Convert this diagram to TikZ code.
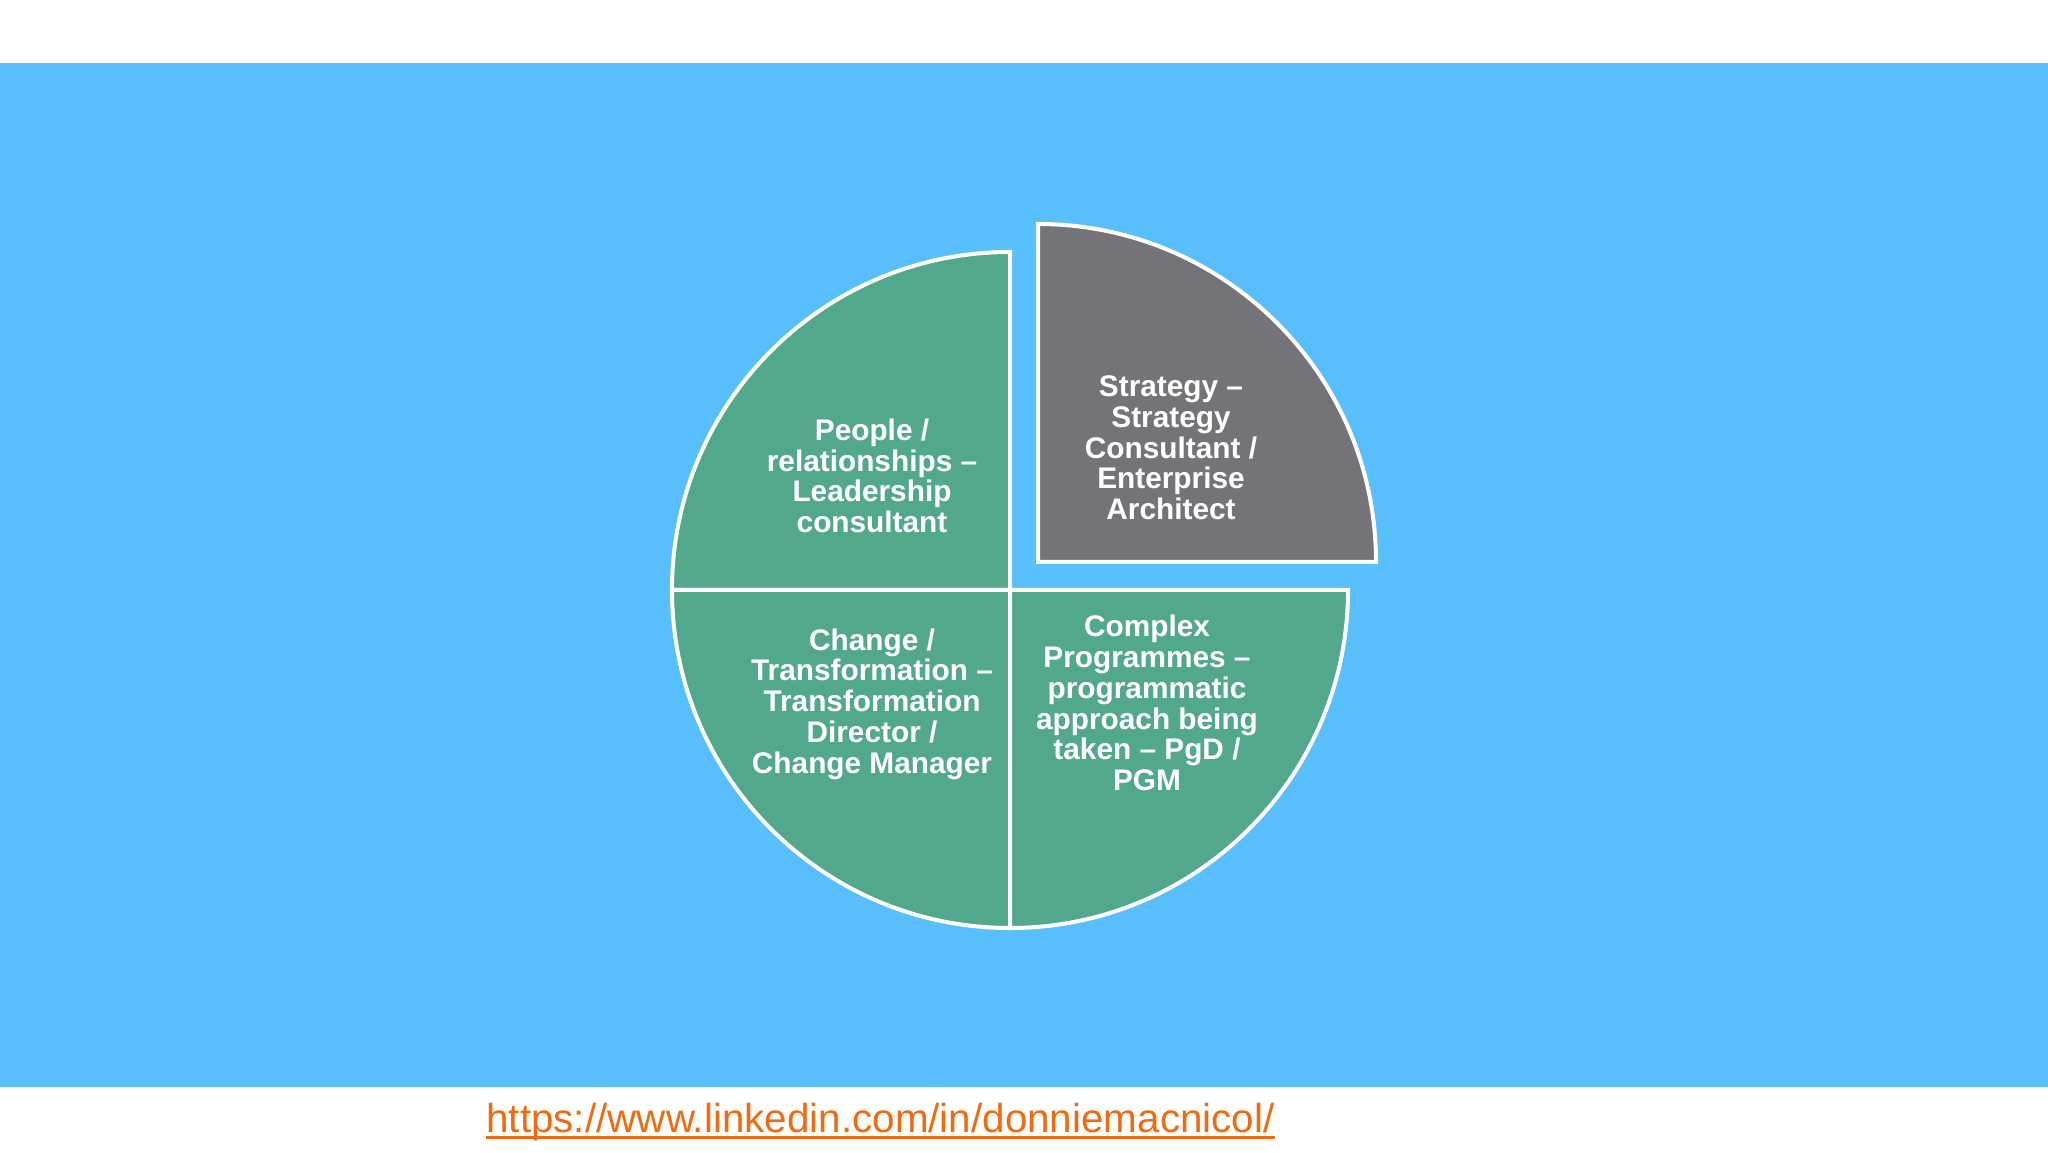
\documentclass[tikz,border=0pt]{standalone}
\usepackage{fontspec}
\setmainfont{Liberation Sans}
\definecolor{bandblue}{RGB}{88,191,252}
\definecolor{wedgegreen}{RGB}{82,168,140}
\definecolor{wedgegray}{RGB}{116,116,120}
\definecolor{urlorange}{RGB}{242,106,16}
\begin{document}
\begin{tikzpicture}[x=0.5pt,y=0.5pt,
  wedge/.style={draw=white,line width=2pt,line join=miter},
  label/.style={text=white,align=center,font=\bfseries\fontsize{14.9}{15.35}\selectfont,inner sep=0pt}]
\fill[white] (0,0) rectangle (2048,1152);
\useasboundingbox (0,0) rectangle (2048,1152);
\fill[bandblue] (0,65) rectangle (2048,1089);
% wedges
\coordinate (c) at (1010,562);
\coordinate (g) at (1038,590);
\path[wedge,fill=wedgegreen] (c) -- ++(180:338) arc[start angle=180,end angle=90,radius=338] -- cycle;
\path[wedge,fill=wedgegreen] (c) -- ++(180:338) arc[start angle=180,end angle=270,radius=338] -- cycle;
\path[wedge,fill=wedgegreen] (c) -- ++(0:338) arc[start angle=0,end angle=-90,radius=338] -- cycle;
\path[wedge,fill=wedgegray] (g) -- ++(90:338) arc[start angle=90,end angle=0,radius=338] -- cycle;
% labels
\node[label] (strategy) at (1171,704) {Strategy --\\Strategy\\Consultant /\\Enterprise\\Architect};
\node[label] (people) at (872,676) {People /\\relationships --\\Leadership\\consultant};
\node[label] (change) at (872,448) {Change /\\Transformation --\\Transformation\\Director /\\Change Manager};
\node[label] (complex) at (1147,449) {Complex\\Programmes --\\programmatic\\approach being\\taken -- PgD /\\PGM};
% url
\node[anchor=base west,inner sep=0pt,text=urlorange,font=\fontsize{20.2}{24}\selectfont] (url) at (486,20) {https://www.linkedin.com/in/donniemacnicol/};
\draw[urlorange,line width=1.5pt] ([yshift=-2.5pt]url.base west) -- ([yshift=-2.5pt]url.base east);
\end{tikzpicture}
\end{document}
